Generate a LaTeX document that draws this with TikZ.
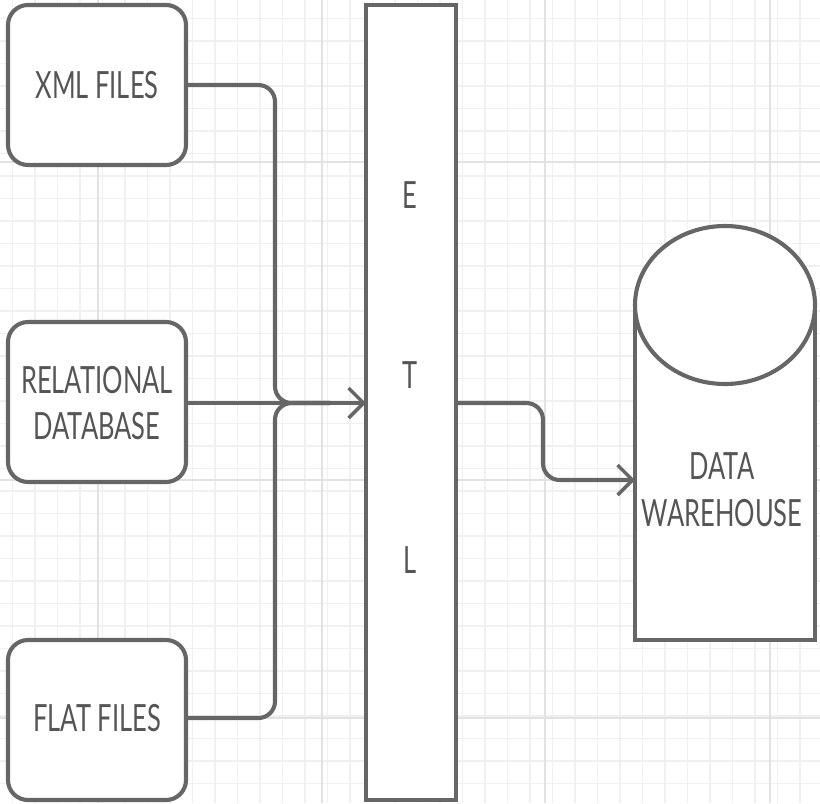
\documentclass[tikz,border=0pt]{standalone}
\usepackage{fontspec}
\setmainfont[FakeStretch=0.68]{Lato}
\usetikzlibrary{arrows.meta}
\definecolor{ln}{HTML}{666666}
\definecolor{tx}{HTML}{555555}
\definecolor{gr}{HTML}{F0F0F0}
\definecolor{gm}{HTML}{E2E2E2}
\begin{document}
\begin{tikzpicture}[x=0.03cm,y=-0.03cm,
  box/.style={draw=ln,line width=3.5pt,rounded corners=0.6cm,fill=white},
  lbl/.style={text=tx,font=\fontsize{32}{40}\selectfont,align=center},
  con/.style={draw=ln,line width=3.5pt,rounded corners=0.5cm},
  arr/.style={con,-{Straight Barb[length=0.45cm,width=0.9cm,line width=3pt]}}]
\useasboundingbox (0,0) rectangle (820,803);
\fill[white] (0,0) rectangle (820,803);
\foreach \i in {0,...,37} {\draw[gr,line width=1pt] (\i*22.5-10,0) -- (\i*22.5-10,803);}
\foreach \i in {0,...,36} {\draw[gr,line width=1pt] (0,\i*22.5-4) -- (820,\i*22.5-4);}
\foreach \x in {98,322,545,770} \draw[gm,line width=1.5pt] (\x,0) -- (\x,803);
\foreach \y in {162,480,718} \draw[gm,line width=1.5pt] (0,\y) -- (820,\y);
\draw[box] (8,5) rectangle (186,165);
\node[lbl] (xml) at (97,85) {XML FILES};
\draw[box] (8,322) rectangle (186,482);
\node[lbl] (rel) at (97,403) {RELATIONAL\\DATABASE};
\draw[box] (8,640) rectangle (186,800);
\node[lbl] (flat) at (97,718) {FLAT FILES};
\draw[draw=ln,line width=3.5pt,fill=white] (366,5) rectangle (456,800);
\node[lbl] (e) at (410,195) {E};
\node[lbl] (t) at (410,375) {T};
\node[lbl] (l) at (410,560) {L};
\coordinate (etlin) at (366,403);
\coordinate (etlout) at (456,403);
\coordinate (dwin) at (635,480);
\draw[draw=ln,line width=3.5pt,fill=white] (635,305) -- (635,640) -- (815,640) -- (815,305);
\draw[draw=ln,line width=3.5pt,fill=white] (725,305) ellipse [x radius=90,y radius=79];
\node[lbl] (dw) at (722,490) {DATA\\WAREHOUSE};
\draw[con] (186,85) -- (275,85) -- (275,403) -- (330,403);
\draw[con] (186,718) -- (275,718) -- (275,403) -- (330,403);
\draw[arr] (186,403) -- (etlin);
\draw[arr] (etlout) -- (543,403) -- (543,480) -- (dwin);
\end{tikzpicture}
\end{document}
